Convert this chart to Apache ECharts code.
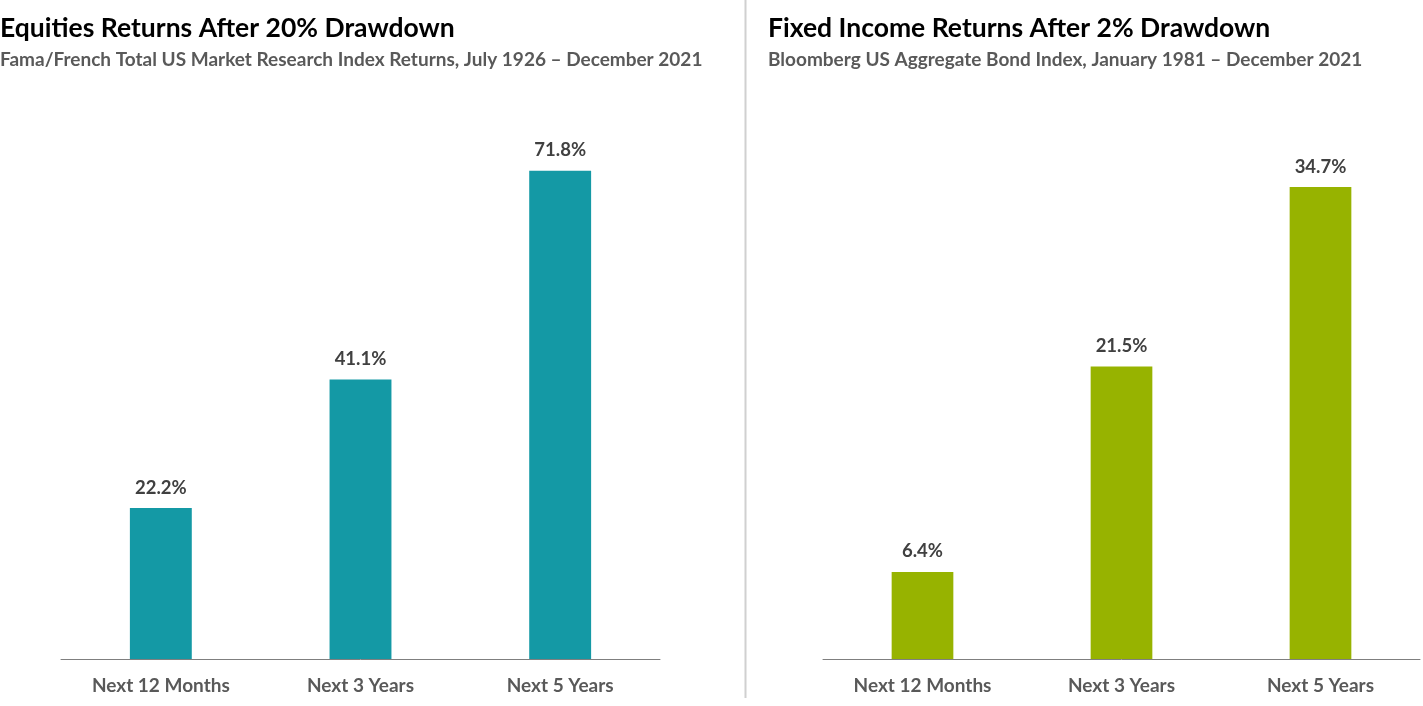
<!DOCTYPE html>
<html><head><meta charset="utf-8">
<script src="https://cdn.jsdelivr.net/npm/echarts@6/dist/echarts.min.js"></script>
<style>html,body{margin:0;padding:0;background:#fff}#c{width:1423px;height:706px}</style>
</head><body><div id="c"></div>
<script>
const categories = ['Next 12 Months', 'Next 3 Years', 'Next 5 Years'];
const equityValues = [22.2, 41.1, 71.8];
const bondValues = [6.4, 21.5, 34.7];
const leftTitle = 'Equities Returns After 20% Drawdown';
const leftSub = 'Fama/French Total US Market Research Index Returns, July 1926 – December 2021';
const rightTitle = 'Fixed Income Returns After 2% Drawdown';
const rightSub = 'Bloomberg US Aggregate Bond Index, January 1981 – December 2021';

const FONT = 'Lato';
const chart = echarts.init(document.getElementById('c'), null, {renderer: 'canvas'});
function xAxis(i){
  return {gridIndex: i, type: 'category', data: categories,
    axisLine: {lineStyle: {color: '#7f7f7f', width: 1}}, axisTick: {show: false},
    axisLabel: {color: '#595959', fontFamily: FONT, fontWeight: 'bold', fontSize: 19, margin: 17}};
}
function yAxis(i, max){
  return {gridIndex: i, type: 'value', min: 0, max: max, show: false, splitLine: {show: false}};
}
function series(i, data, color){
  return {type: 'bar', xAxisIndex: i, yAxisIndex: i, data: data, barWidth: '31%',
    itemStyle: {color: color},
    label: {show: true, position: 'top', distance: 11, color: '#404040', fontFamily: FONT,
      fontWeight: 'bold', fontSize: 18.5, formatter: p => p.value.toFixed(1) + '%'}};
}
chart.setOption({
  animation: false,
  title: [
    {text: leftTitle, subtext: leftSub, left: 0, top: 15, itemGap: 8, padding: 0,
      textStyle: {fontFamily: FONT, fontWeight: 'bold', fontSize: 26.5, color: '#000'},
      subtextStyle: {fontFamily: FONT, fontWeight: 'bold', fontSize: 19, color: '#595959'}},
    {text: rightTitle, subtext: rightSub, left: 768, top: 15, itemGap: 8, padding: 0,
      textStyle: {fontFamily: FONT, fontWeight: 'bold', fontSize: 26.5, color: '#000'},
      subtextStyle: {fontFamily: FONT, fontWeight: 'bold', fontSize: 19, color: '#595959'}}
  ],
  grid: [
    {left: 61, width: 599, top: 115, height: 544},
    {left: 823, width: 597, top: 115, height: 544}
  ],
  xAxis: [xAxis(0), xAxis(1)],
  yAxis: [yAxis(0, 80), yAxis(1, 40)],
  series: [series(0, equityValues, '#1499a5'), series(1, bondValues, '#97b300')],
  graphic: [{type: 'line', shape: {x1: 745.5, y1: 0, x2: 745.5, y2: 698},
    style: {stroke: '#d0d0d0', lineWidth: 2}}]
});
</script></body></html>
